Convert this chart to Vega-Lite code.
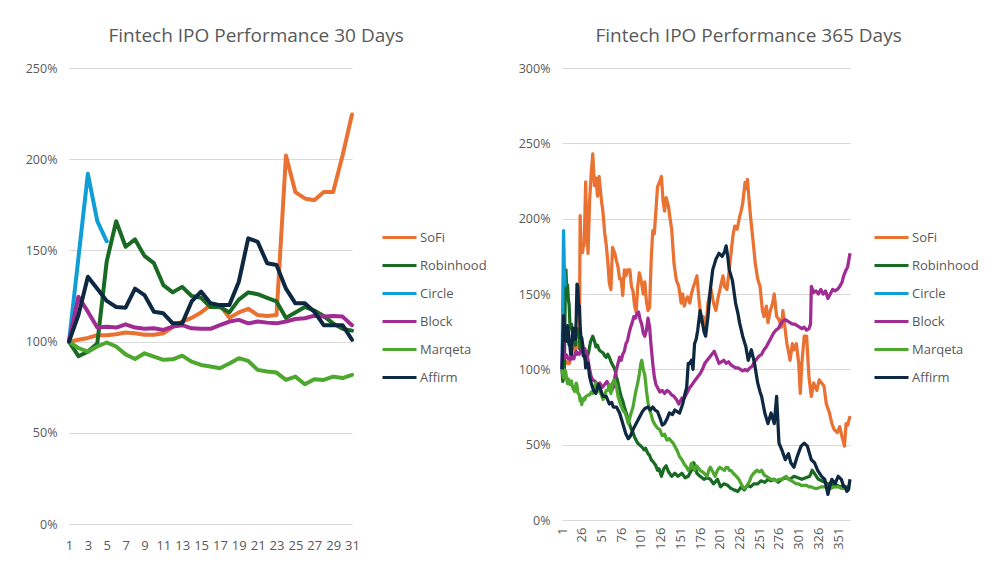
{
  "$schema": "https://vega.github.io/schema/vega-lite/v6.json",
  "background": "white",
  "padding": {"left": 25, "top": 27, "right": 5, "bottom": 5},
  "spacing": 31,
  "datasets": {
    "ipo": [
      {"s":"SoFi","d":1,"v":100},{"s":"SoFi","d":2,"v":101},{"s":"SoFi","d":3,"v":102},{"s":"SoFi","d":4,"v":103.5},{"s":"SoFi","d":5,"v":103.5},
      {"s":"SoFi","d":6,"v":104},{"s":"SoFi","d":7,"v":105},{"s":"SoFi","d":8,"v":104.6},{"s":"SoFi","d":9,"v":103.8},{"s":"SoFi","d":10,"v":103.8},
      {"s":"SoFi","d":11,"v":104.6},{"s":"SoFi","d":12,"v":108},{"s":"SoFi","d":13,"v":111},{"s":"SoFi","d":14,"v":113},{"s":"SoFi","d":15,"v":116},
      {"s":"SoFi","d":16,"v":120},{"s":"SoFi","d":17,"v":120},{"s":"SoFi","d":18,"v":113},{"s":"SoFi","d":19,"v":116},{"s":"SoFi","d":20,"v":118},
      {"s":"SoFi","d":21,"v":114.6},{"s":"SoFi","d":22,"v":114},{"s":"SoFi","d":23,"v":114.6},{"s":"SoFi","d":24,"v":202},{"s":"SoFi","d":25,"v":182},
      {"s":"SoFi","d":26,"v":178.5},{"s":"SoFi","d":27,"v":177.5},{"s":"SoFi","d":28,"v":182},{"s":"SoFi","d":29,"v":182},{"s":"SoFi","d":30,"v":202},
      {"s":"SoFi","d":31,"v":224.5},
      {"s":"SoFi","d":32,"v":200},{"s":"SoFi","d":34,"v":177},{"s":"SoFi","d":36,"v":212},{"s":"SoFi","d":38,"v":230},{"s":"SoFi","d":40,"v":243},
      {"s":"SoFi","d":42,"v":222},{"s":"SoFi","d":44,"v":227},{"s":"SoFi","d":46,"v":215},{"s":"SoFi","d":48,"v":228},{"s":"SoFi","d":51,"v":212},
      {"s":"SoFi","d":53,"v":204},{"s":"SoFi","d":55,"v":191},{"s":"SoFi","d":57,"v":183},{"s":"SoFi","d":59,"v":172},{"s":"SoFi","d":61,"v":157},
      {"s":"SoFi","d":63,"v":153},{"s":"SoFi","d":65,"v":181},{"s":"SoFi","d":68,"v":177},{"s":"SoFi","d":70,"v":172},{"s":"SoFi","d":72,"v":168},
      {"s":"SoFi","d":74,"v":160},{"s":"SoFi","d":76,"v":160},{"s":"SoFi","d":78,"v":149},{"s":"SoFi","d":80,"v":166},{"s":"SoFi","d":82,"v":162},
      {"s":"SoFi","d":84,"v":166},{"s":"SoFi","d":87,"v":166},{"s":"SoFi","d":89,"v":155},{"s":"SoFi","d":91,"v":152},{"s":"SoFi","d":93,"v":142},
      {"s":"SoFi","d":95,"v":138},{"s":"SoFi","d":97,"v":155},{"s":"SoFi","d":99,"v":164},{"s":"SoFi","d":101,"v":160},{"s":"SoFi","d":104,"v":150},
      {"s":"SoFi","d":106,"v":158},{"s":"SoFi","d":108,"v":145},{"s":"SoFi","d":110,"v":139},{"s":"SoFi","d":112,"v":141},{"s":"SoFi","d":114,"v":172},
      {"s":"SoFi","d":116,"v":192},{"s":"SoFi","d":118,"v":190},{"s":"SoFi","d":120,"v":205},{"s":"SoFi","d":122,"v":221},{"s":"SoFi","d":125,"v":225},
      {"s":"SoFi","d":127,"v":228},{"s":"SoFi","d":129,"v":212},{"s":"SoFi","d":131,"v":205},{"s":"SoFi","d":133,"v":214},{"s":"SoFi","d":136,"v":208},
      {"s":"SoFi","d":138,"v":200},{"s":"SoFi","d":140,"v":193},{"s":"SoFi","d":143,"v":170},{"s":"SoFi","d":146,"v":159},{"s":"SoFi","d":149,"v":155},
      {"s":"SoFi","d":152,"v":144},{"s":"SoFi","d":154,"v":150},{"s":"SoFi","d":156,"v":142},{"s":"SoFi","d":158,"v":146},{"s":"SoFi","d":160,"v":148},
      {"s":"SoFi","d":163,"v":144},{"s":"SoFi","d":165,"v":150},{"s":"SoFi","d":167,"v":154},{"s":"SoFi","d":169,"v":157},{"s":"SoFi","d":172,"v":162},
      {"s":"SoFi","d":175,"v":144},{"s":"SoFi","d":178,"v":131},{"s":"SoFi","d":180,"v":135},{"s":"SoFi","d":183,"v":126},{"s":"SoFi","d":186,"v":144},
      {"s":"SoFi","d":188,"v":150},{"s":"SoFi","d":190,"v":153},{"s":"SoFi","d":193,"v":144},{"s":"SoFi","d":196,"v":139},{"s":"SoFi","d":199,"v":148},
      {"s":"SoFi","d":202,"v":155},{"s":"SoFi","d":205,"v":162},{"s":"SoFi","d":207,"v":155},{"s":"SoFi","d":210,"v":153},{"s":"SoFi","d":213,"v":166},
      {"s":"SoFi","d":216,"v":181},{"s":"SoFi","d":218,"v":190},{"s":"SoFi","d":220,"v":195},{"s":"SoFi","d":223,"v":193},{"s":"SoFi","d":226,"v":201},
      {"s":"SoFi","d":228,"v":205},{"s":"SoFi","d":230,"v":210},{"s":"SoFi","d":233,"v":224},{"s":"SoFi","d":235,"v":220},{"s":"SoFi","d":236,"v":226},
      {"s":"SoFi","d":238,"v":213},{"s":"SoFi","d":240,"v":201},{"s":"SoFi","d":243,"v":186},{"s":"SoFi","d":246,"v":170},{"s":"SoFi","d":249,"v":160},
      {"s":"SoFi","d":252,"v":155},{"s":"SoFi","d":255,"v":139},{"s":"SoFi","d":257,"v":135},{"s":"SoFi","d":260,"v":142},{"s":"SoFi","d":262,"v":131},
      {"s":"SoFi","d":265,"v":139},{"s":"SoFi","d":268,"v":144},{"s":"SoFi","d":270,"v":150},{"s":"SoFi","d":273,"v":135},{"s":"SoFi","d":276,"v":133},
      {"s":"SoFi","d":279,"v":128},{"s":"SoFi","d":281,"v":139},{"s":"SoFi","d":284,"v":126},{"s":"SoFi","d":286,"v":117},{"s":"SoFi","d":288,"v":112},
      {"s":"SoFi","d":290,"v":106},{"s":"SoFi","d":293,"v":117},{"s":"SoFi","d":295,"v":113},{"s":"SoFi","d":298,"v":117},{"s":"SoFi","d":301,"v":104},
      {"s":"SoFi","d":303,"v":84},{"s":"SoFi","d":305,"v":104},{"s":"SoFi","d":308,"v":122},{"s":"SoFi","d":311,"v":122},{"s":"SoFi","d":314,"v":95},
      {"s":"SoFi","d":317,"v":82},{"s":"SoFi","d":320,"v":91},{"s":"SoFi","d":324,"v":86},{"s":"SoFi","d":327,"v":93},{"s":"SoFi","d":330,"v":91},
      {"s":"SoFi","d":333,"v":89},{"s":"SoFi","d":336,"v":77},{"s":"SoFi","d":340,"v":71},{"s":"SoFi","d":343,"v":64},{"s":"SoFi","d":346,"v":60},
      {"s":"SoFi","d":350,"v":58},{"s":"SoFi","d":353,"v":62},{"s":"SoFi","d":356,"v":55},{"s":"SoFi","d":359,"v":49},{"s":"SoFi","d":361,"v":64},
      {"s":"SoFi","d":363,"v":63},{"s":"SoFi","d":366,"v":69},

      {"s":"Robinhood","d":1,"v":100},{"s":"Robinhood","d":2,"v":92},{"s":"Robinhood","d":3,"v":94.5},{"s":"Robinhood","d":4,"v":99},{"s":"Robinhood","d":5,"v":144},
      {"s":"Robinhood","d":6,"v":166},{"s":"Robinhood","d":7,"v":152},{"s":"Robinhood","d":8,"v":156},{"s":"Robinhood","d":9,"v":147},{"s":"Robinhood","d":10,"v":143},
      {"s":"Robinhood","d":11,"v":131},{"s":"Robinhood","d":12,"v":127},{"s":"Robinhood","d":13,"v":130},{"s":"Robinhood","d":14,"v":125},{"s":"Robinhood","d":15,"v":124},
      {"s":"Robinhood","d":16,"v":119},{"s":"Robinhood","d":17,"v":119},{"s":"Robinhood","d":18,"v":116},{"s":"Robinhood","d":19,"v":123},{"s":"Robinhood","d":20,"v":127},
      {"s":"Robinhood","d":21,"v":126},{"s":"Robinhood","d":22,"v":124},{"s":"Robinhood","d":23,"v":122},{"s":"Robinhood","d":24,"v":113},{"s":"Robinhood","d":25,"v":116},
      {"s":"Robinhood","d":26,"v":119},{"s":"Robinhood","d":27,"v":117},{"s":"Robinhood","d":28,"v":114},{"s":"Robinhood","d":29,"v":110},{"s":"Robinhood","d":30,"v":107},
      {"s":"Robinhood","d":31,"v":106},
      {"s":"Robinhood","d":33,"v":108},{"s":"Robinhood","d":35,"v":112},{"s":"Robinhood","d":37,"v":118},{"s":"Robinhood","d":40,"v":122},{"s":"Robinhood","d":42,"v":119},
      {"s":"Robinhood","d":44,"v":115},{"s":"Robinhood","d":46,"v":116},{"s":"Robinhood","d":48,"v":113},{"s":"Robinhood","d":50,"v":112},{"s":"Robinhood","d":53,"v":111},
      {"s":"Robinhood","d":55,"v":109},{"s":"Robinhood","d":57,"v":108},{"s":"Robinhood","d":59,"v":110},{"s":"Robinhood","d":61,"v":108},{"s":"Robinhood","d":64,"v":104},
      {"s":"Robinhood","d":66,"v":102},{"s":"Robinhood","d":68,"v":100},{"s":"Robinhood","d":70,"v":95},{"s":"Robinhood","d":72,"v":91},{"s":"Robinhood","d":74,"v":86},
      {"s":"Robinhood","d":76,"v":82},{"s":"Robinhood","d":78,"v":79},{"s":"Robinhood","d":80,"v":75},{"s":"Robinhood","d":83,"v":70},{"s":"Robinhood","d":85,"v":66},
      {"s":"Robinhood","d":87,"v":63},{"s":"Robinhood","d":89,"v":60},{"s":"Robinhood","d":91,"v":58},{"s":"Robinhood","d":93,"v":55},{"s":"Robinhood","d":95,"v":53},
      {"s":"Robinhood","d":97,"v":51},{"s":"Robinhood","d":99,"v":50},{"s":"Robinhood","d":101,"v":49},{"s":"Robinhood","d":103,"v":48},{"s":"Robinhood","d":105,"v":46.5},
      {"s":"Robinhood","d":107,"v":47.6},{"s":"Robinhood","d":110,"v":44},{"s":"Robinhood","d":112,"v":43},{"s":"Robinhood","d":114,"v":40},{"s":"Robinhood","d":116,"v":39},
      {"s":"Robinhood","d":118,"v":37.6},{"s":"Robinhood","d":120,"v":36},{"s":"Robinhood","d":122,"v":33},{"s":"Robinhood","d":124,"v":34},{"s":"Robinhood","d":127,"v":29},
      {"s":"Robinhood","d":130,"v":34},{"s":"Robinhood","d":133,"v":36},{"s":"Robinhood","d":136,"v":32},{"s":"Robinhood","d":140,"v":29},{"s":"Robinhood","d":144,"v":31},
      {"s":"Robinhood","d":148,"v":29},{"s":"Robinhood","d":153,"v":31},{"s":"Robinhood","d":157,"v":28},{"s":"Robinhood","d":161,"v":29},{"s":"Robinhood","d":165,"v":33},
      {"s":"Robinhood","d":168,"v":38},{"s":"Robinhood","d":170,"v":35},{"s":"Robinhood","d":172,"v":31},{"s":"Robinhood","d":176,"v":29},{"s":"Robinhood","d":181,"v":27},
      {"s":"Robinhood","d":185,"v":28},{"s":"Robinhood","d":189,"v":27},{"s":"Robinhood","d":193,"v":24},{"s":"Robinhood","d":198,"v":27},{"s":"Robinhood","d":202,"v":22},
      {"s":"Robinhood","d":206,"v":24},{"s":"Robinhood","d":211,"v":23},{"s":"Robinhood","d":215,"v":21},{"s":"Robinhood","d":219,"v":20},{"s":"Robinhood","d":224,"v":19},
      {"s":"Robinhood","d":228,"v":22},{"s":"Robinhood","d":232,"v":20},{"s":"Robinhood","d":236,"v":23},{"s":"Robinhood","d":240,"v":22},{"s":"Robinhood","d":244,"v":24},
      {"s":"Robinhood","d":249,"v":24},{"s":"Robinhood","d":253,"v":26},{"s":"Robinhood","d":258,"v":25},{"s":"Robinhood","d":262,"v":27},{"s":"Robinhood","d":266,"v":26},
      {"s":"Robinhood","d":270,"v":27},{"s":"Robinhood","d":275,"v":25},{"s":"Robinhood","d":280,"v":27},{"s":"Robinhood","d":285,"v":28},{"s":"Robinhood","d":290,"v":27},
      {"s":"Robinhood","d":295,"v":29},{"s":"Robinhood","d":300,"v":28},{"s":"Robinhood","d":305,"v":27},{"s":"Robinhood","d":310,"v":28},{"s":"Robinhood","d":315,"v":29},
      {"s":"Robinhood","d":318,"v":33},{"s":"Robinhood","d":322,"v":30},{"s":"Robinhood","d":326,"v":27},{"s":"Robinhood","d":330,"v":26},{"s":"Robinhood","d":334,"v":25},
      {"s":"Robinhood","d":338,"v":24},{"s":"Robinhood","d":342,"v":23},{"s":"Robinhood","d":346,"v":24},{"s":"Robinhood","d":350,"v":23},{"s":"Robinhood","d":354,"v":22},
      {"s":"Robinhood","d":358,"v":23},{"s":"Robinhood","d":362,"v":21},{"s":"Robinhood","d":366,"v":22},

      {"s":"Circle","d":1,"v":100},{"s":"Circle","d":2,"v":146},{"s":"Circle","d":3,"v":192},{"s":"Circle","d":4,"v":166},{"s":"Circle","d":5,"v":155},

      {"s":"Block","d":1,"v":100},{"s":"Block","d":2,"v":124.6},{"s":"Block","d":3,"v":116.4},{"s":"Block","d":4,"v":107.7},{"s":"Block","d":5,"v":108.2},
      {"s":"Block","d":6,"v":107.7},{"s":"Block","d":7,"v":109.5},{"s":"Block","d":8,"v":107.7},{"s":"Block","d":9,"v":107},{"s":"Block","d":10,"v":107.3},
      {"s":"Block","d":11,"v":106.4},{"s":"Block","d":12,"v":108.2},{"s":"Block","d":13,"v":109},{"s":"Block","d":14,"v":107.3},{"s":"Block","d":15,"v":107},
      {"s":"Block","d":16,"v":107},{"s":"Block","d":17,"v":109},{"s":"Block","d":18,"v":111},{"s":"Block","d":19,"v":111.9},{"s":"Block","d":20,"v":110},
      {"s":"Block","d":21,"v":111},{"s":"Block","d":22,"v":110.4},{"s":"Block","d":23,"v":110},{"s":"Block","d":24,"v":111},{"s":"Block","d":25,"v":112.4},
      {"s":"Block","d":26,"v":112.8},{"s":"Block","d":27,"v":114.2},{"s":"Block","d":28,"v":113.7},{"s":"Block","d":29,"v":114},{"s":"Block","d":30,"v":113.7},
      {"s":"Block","d":31,"v":109},
      {"s":"Block","d":32,"v":112},{"s":"Block","d":34,"v":106},{"s":"Block","d":36,"v":100},{"s":"Block","d":38,"v":95},{"s":"Block","d":40,"v":93},
      {"s":"Block","d":43,"v":92},{"s":"Block","d":46,"v":90},{"s":"Block","d":49,"v":91},{"s":"Block","d":52,"v":88},{"s":"Block","d":55,"v":90},
      {"s":"Block","d":58,"v":92},{"s":"Block","d":61,"v":88},{"s":"Block","d":64,"v":86},{"s":"Block","d":66,"v":88},{"s":"Block","d":68,"v":95},
      {"s":"Block","d":70,"v":100},{"s":"Block","d":72,"v":104},{"s":"Block","d":74,"v":108},{"s":"Block","d":76,"v":106},{"s":"Block","d":78,"v":110},
      {"s":"Block","d":80,"v":112},{"s":"Block","d":82,"v":117},{"s":"Block","d":84,"v":119},{"s":"Block","d":86,"v":124},{"s":"Block","d":88,"v":128},
      {"s":"Block","d":90,"v":131},{"s":"Block","d":92,"v":135},{"s":"Block","d":94,"v":134},{"s":"Block","d":96,"v":137},{"s":"Block","d":98,"v":138},
      {"s":"Block","d":100,"v":133},{"s":"Block","d":102,"v":130},{"s":"Block","d":104,"v":124},{"s":"Block","d":106,"v":122},{"s":"Block","d":108,"v":126},
      {"s":"Block","d":110,"v":134},{"s":"Block","d":112,"v":128},{"s":"Block","d":114,"v":115},{"s":"Block","d":116,"v":104},{"s":"Block","d":118,"v":95},
      {"s":"Block","d":120,"v":90},{"s":"Block","d":122,"v":88},{"s":"Block","d":125,"v":85},{"s":"Block","d":128,"v":86},{"s":"Block","d":131,"v":84},
      {"s":"Block","d":134,"v":86},{"s":"Block","d":137,"v":85},{"s":"Block","d":140,"v":83},{"s":"Block","d":143,"v":82},{"s":"Block","d":146,"v":80},
      {"s":"Block","d":149,"v":77},{"s":"Block","d":151,"v":79},{"s":"Block","d":153,"v":81},{"s":"Block","d":155,"v":80},{"s":"Block","d":157,"v":82},
      {"s":"Block","d":160,"v":85},{"s":"Block","d":163,"v":88},{"s":"Block","d":166,"v":90},{"s":"Block","d":170,"v":93},{"s":"Block","d":173,"v":95},
      {"s":"Block","d":176,"v":97},{"s":"Block","d":179,"v":100},{"s":"Block","d":182,"v":104},{"s":"Block","d":185,"v":106},{"s":"Block","d":188,"v":108},
      {"s":"Block","d":191,"v":110},{"s":"Block","d":194,"v":112},{"s":"Block","d":197,"v":108},{"s":"Block","d":200,"v":104},{"s":"Block","d":203,"v":105},
      {"s":"Block","d":206,"v":106},{"s":"Block","d":209,"v":104},{"s":"Block","d":212,"v":105},{"s":"Block","d":215,"v":103},{"s":"Block","d":218,"v":102},
      {"s":"Block","d":221,"v":101},{"s":"Block","d":224,"v":101},{"s":"Block","d":227,"v":100},{"s":"Block","d":230,"v":99},{"s":"Block","d":233,"v":100},
      {"s":"Block","d":236,"v":99},{"s":"Block","d":239,"v":101},{"s":"Block","d":242,"v":102},{"s":"Block","d":245,"v":105},{"s":"Block","d":248,"v":107},
      {"s":"Block","d":251,"v":109},{"s":"Block","d":254,"v":110},{"s":"Block","d":257,"v":113},{"s":"Block","d":260,"v":115},{"s":"Block","d":263,"v":118},
      {"s":"Block","d":266,"v":121},{"s":"Block","d":269,"v":124},{"s":"Block","d":272,"v":126},{"s":"Block","d":275,"v":127},{"s":"Block","d":278,"v":130},
      {"s":"Block","d":281,"v":132},{"s":"Block","d":284,"v":133},{"s":"Block","d":287,"v":132},{"s":"Block","d":290,"v":131},{"s":"Block","d":293,"v":130},
      {"s":"Block","d":296,"v":130},{"s":"Block","d":299,"v":129},{"s":"Block","d":302,"v":128},{"s":"Block","d":305,"v":127},{"s":"Block","d":308,"v":128},
      {"s":"Block","d":311,"v":126},{"s":"Block","d":314,"v":127},{"s":"Block","d":316,"v":130},{"s":"Block","d":317,"v":155},{"s":"Block","d":320,"v":151},
      {"s":"Block","d":323,"v":152},{"s":"Block","d":326,"v":150},{"s":"Block","d":329,"v":153},{"s":"Block","d":332,"v":150},{"s":"Block","d":335,"v":152},
      {"s":"Block","d":338,"v":147},{"s":"Block","d":341,"v":150},{"s":"Block","d":344,"v":153},{"s":"Block","d":347,"v":152},{"s":"Block","d":350,"v":153},
      {"s":"Block","d":353,"v":155},{"s":"Block","d":356,"v":158},{"s":"Block","d":358,"v":162},{"s":"Block","d":361,"v":166},{"s":"Block","d":363,"v":168},
      {"s":"Block","d":366,"v":177},

      {"s":"Marqeta","d":1,"v":100},{"s":"Marqeta","d":2,"v":96.4},{"s":"Marqeta","d":3,"v":94.5},{"s":"Marqeta","d":4,"v":97.3},{"s":"Marqeta","d":5,"v":99.5},
      {"s":"Marqeta","d":6,"v":97.3},{"s":"Marqeta","d":7,"v":93},{"s":"Marqeta","d":8,"v":90.5},{"s":"Marqeta","d":9,"v":93.6},{"s":"Marqeta","d":10,"v":91.8},
      {"s":"Marqeta","d":11,"v":90},{"s":"Marqeta","d":12,"v":90.3},{"s":"Marqeta","d":13,"v":92.3},{"s":"Marqeta","d":14,"v":89},{"s":"Marqeta","d":15,"v":87.2},
      {"s":"Marqeta","d":16,"v":86.3},{"s":"Marqeta","d":17,"v":85.4},{"s":"Marqeta","d":18,"v":88},{"s":"Marqeta","d":19,"v":90.9},{"s":"Marqeta","d":20,"v":89.4},
      {"s":"Marqeta","d":21,"v":84.5},{"s":"Marqeta","d":22,"v":83.6},{"s":"Marqeta","d":23,"v":83},{"s":"Marqeta","d":24,"v":79},{"s":"Marqeta","d":25,"v":80.8},
      {"s":"Marqeta","d":26,"v":76.6},{"s":"Marqeta","d":27,"v":79.4},{"s":"Marqeta","d":28,"v":79},{"s":"Marqeta","d":29,"v":80.8},{"s":"Marqeta","d":30,"v":80},
      {"s":"Marqeta","d":31,"v":81.8},
      {"s":"Marqeta","d":34,"v":83},{"s":"Marqeta","d":36,"v":83},{"s":"Marqeta","d":38,"v":85},{"s":"Marqeta","d":40,"v":84},{"s":"Marqeta","d":42,"v":88},
      {"s":"Marqeta","d":44,"v":91},{"s":"Marqeta","d":46,"v":87},{"s":"Marqeta","d":49,"v":85},{"s":"Marqeta","d":51,"v":83},{"s":"Marqeta","d":53,"v":80},
      {"s":"Marqeta","d":55,"v":82},{"s":"Marqeta","d":57,"v":86},{"s":"Marqeta","d":59,"v":86},{"s":"Marqeta","d":61,"v":90},{"s":"Marqeta","d":63,"v":84},
      {"s":"Marqeta","d":65,"v":91},{"s":"Marqeta","d":67,"v":93},{"s":"Marqeta","d":70,"v":89},{"s":"Marqeta","d":72,"v":82},{"s":"Marqeta","d":75,"v":77},
      {"s":"Marqeta","d":78,"v":73},{"s":"Marqeta","d":81,"v":71},{"s":"Marqeta","d":83,"v":68},{"s":"Marqeta","d":85,"v":64},{"s":"Marqeta","d":88,"v":70},
      {"s":"Marqeta","d":91,"v":75},{"s":"Marqeta","d":94,"v":84},{"s":"Marqeta","d":97,"v":91},{"s":"Marqeta","d":99,"v":97},{"s":"Marqeta","d":101,"v":104},
      {"s":"Marqeta","d":102,"v":106},{"s":"Marqeta","d":104,"v":100},{"s":"Marqeta","d":106,"v":96},{"s":"Marqeta","d":108,"v":86},{"s":"Marqeta","d":110,"v":78},
      {"s":"Marqeta","d":112,"v":73},{"s":"Marqeta","d":114,"v":70},{"s":"Marqeta","d":116,"v":66},{"s":"Marqeta","d":119,"v":63},{"s":"Marqeta","d":122,"v":61},
      {"s":"Marqeta","d":125,"v":60},{"s":"Marqeta","d":128,"v":56},{"s":"Marqeta","d":131,"v":57},{"s":"Marqeta","d":134,"v":53},{"s":"Marqeta","d":137,"v":54},
      {"s":"Marqeta","d":140,"v":52},{"s":"Marqeta","d":142,"v":51},{"s":"Marqeta","d":145,"v":48},{"s":"Marqeta","d":147,"v":46},{"s":"Marqeta","d":150,"v":42},
      {"s":"Marqeta","d":153,"v":40},{"s":"Marqeta","d":156,"v":37},{"s":"Marqeta","d":159,"v":35},{"s":"Marqeta","d":161,"v":33},{"s":"Marqeta","d":163,"v":34},
      {"s":"Marqeta","d":165,"v":37.6},{"s":"Marqeta","d":167,"v":35},{"s":"Marqeta","d":169,"v":33},{"s":"Marqeta","d":171,"v":36},{"s":"Marqeta","d":173,"v":35},
      {"s":"Marqeta","d":176,"v":33},{"s":"Marqeta","d":179,"v":32},{"s":"Marqeta","d":181,"v":31},{"s":"Marqeta","d":183,"v":30},{"s":"Marqeta","d":185,"v":29},
      {"s":"Marqeta","d":187,"v":33},{"s":"Marqeta","d":189,"v":35},{"s":"Marqeta","d":192,"v":32},{"s":"Marqeta","d":195,"v":29},{"s":"Marqeta","d":198,"v":33},
      {"s":"Marqeta","d":201,"v":35},{"s":"Marqeta","d":204,"v":34},{"s":"Marqeta","d":207,"v":33},{"s":"Marqeta","d":209,"v":35},{"s":"Marqeta","d":211,"v":35},
      {"s":"Marqeta","d":213,"v":33},{"s":"Marqeta","d":215,"v":33},{"s":"Marqeta","d":218,"v":31},{"s":"Marqeta","d":222,"v":29},{"s":"Marqeta","d":225,"v":27},
      {"s":"Marqeta","d":228,"v":24},{"s":"Marqeta","d":230,"v":22},{"s":"Marqeta","d":232,"v":21},{"s":"Marqeta","d":234,"v":22},{"s":"Marqeta","d":237,"v":24},
      {"s":"Marqeta","d":239,"v":26},{"s":"Marqeta","d":241,"v":29},{"s":"Marqeta","d":244,"v":31},{"s":"Marqeta","d":248,"v":33},{"s":"Marqeta","d":251,"v":32},
      {"s":"Marqeta","d":254,"v":33},{"s":"Marqeta","d":257,"v":30},{"s":"Marqeta","d":260,"v":29},{"s":"Marqeta","d":263,"v":28},{"s":"Marqeta","d":266,"v":27},
      {"s":"Marqeta","d":270,"v":27},{"s":"Marqeta","d":273,"v":26},{"s":"Marqeta","d":276,"v":27},{"s":"Marqeta","d":279,"v":27},{"s":"Marqeta","d":282,"v":28},
      {"s":"Marqeta","d":285,"v":29},{"s":"Marqeta","d":288,"v":27},{"s":"Marqeta","d":292,"v":26},{"s":"Marqeta","d":295,"v":25},{"s":"Marqeta","d":298,"v":24},
      {"s":"Marqeta","d":301,"v":24},{"s":"Marqeta","d":304,"v":23},{"s":"Marqeta","d":308,"v":23},{"s":"Marqeta","d":311,"v":23},{"s":"Marqeta","d":314,"v":22},
      {"s":"Marqeta","d":317,"v":22},{"s":"Marqeta","d":321,"v":21},{"s":"Marqeta","d":325,"v":21},{"s":"Marqeta","d":329,"v":22},{"s":"Marqeta","d":334,"v":22},
      {"s":"Marqeta","d":338,"v":21},{"s":"Marqeta","d":342,"v":21},{"s":"Marqeta","d":346,"v":22},{"s":"Marqeta","d":351,"v":22},{"s":"Marqeta","d":355,"v":21},
      {"s":"Marqeta","d":359,"v":21},{"s":"Marqeta","d":362,"v":22},{"s":"Marqeta","d":366,"v":23},

      {"s":"Affirm","d":1,"v":100},{"s":"Affirm","d":2,"v":114.6},{"s":"Affirm","d":3,"v":135.6},{"s":"Affirm","d":4,"v":129},{"s":"Affirm","d":5,"v":122.3},
      {"s":"Affirm","d":6,"v":119},{"s":"Affirm","d":7,"v":118.6},{"s":"Affirm","d":8,"v":129},{"s":"Affirm","d":9,"v":125.5},{"s":"Affirm","d":10,"v":116.4},
      {"s":"Affirm","d":11,"v":115.5},{"s":"Affirm","d":12,"v":110},{"s":"Affirm","d":13,"v":110},{"s":"Affirm","d":14,"v":122},{"s":"Affirm","d":15,"v":127.4},
      {"s":"Affirm","d":16,"v":121},{"s":"Affirm","d":17,"v":120},{"s":"Affirm","d":18,"v":120},{"s":"Affirm","d":19,"v":132.8},{"s":"Affirm","d":20,"v":156.6},
      {"s":"Affirm","d":21,"v":154.7},{"s":"Affirm","d":22,"v":143},{"s":"Affirm","d":23,"v":142},{"s":"Affirm","d":24,"v":129},{"s":"Affirm","d":25,"v":121},
      {"s":"Affirm","d":26,"v":121},{"s":"Affirm","d":27,"v":116.4},{"s":"Affirm","d":28,"v":109},{"s":"Affirm","d":29,"v":109},{"s":"Affirm","d":30,"v":109},
      {"s":"Affirm","d":31,"v":101},
      {"s":"Affirm","d":34,"v":104},{"s":"Affirm","d":36,"v":95},{"s":"Affirm","d":38,"v":91},{"s":"Affirm","d":41,"v":86},{"s":"Affirm","d":44,"v":84},
      {"s":"Affirm","d":47,"v":90},{"s":"Affirm","d":49,"v":88},{"s":"Affirm","d":53,"v":82},{"s":"Affirm","d":57,"v":82},{"s":"Affirm","d":61,"v":77},
      {"s":"Affirm","d":64,"v":78},{"s":"Affirm","d":66,"v":75},{"s":"Affirm","d":70,"v":75},{"s":"Affirm","d":74,"v":71},{"s":"Affirm","d":78,"v":64},
      {"s":"Affirm","d":82,"v":57},{"s":"Affirm","d":85,"v":54},{"s":"Affirm","d":88,"v":56},{"s":"Affirm","d":91,"v":60},{"s":"Affirm","d":95,"v":64},
      {"s":"Affirm","d":99,"v":68},{"s":"Affirm","d":103,"v":72},{"s":"Affirm","d":106,"v":74},{"s":"Affirm","d":110,"v":75},{"s":"Affirm","d":113,"v":73},
      {"s":"Affirm","d":116,"v":75},{"s":"Affirm","d":119,"v":73},{"s":"Affirm","d":122,"v":72},{"s":"Affirm","d":125,"v":68},{"s":"Affirm","d":128,"v":63},
      {"s":"Affirm","d":131,"v":64},{"s":"Affirm","d":134,"v":67},{"s":"Affirm","d":137,"v":71},{"s":"Affirm","d":141,"v":70},{"s":"Affirm","d":144,"v":73},
      {"s":"Affirm","d":147,"v":72},{"s":"Affirm","d":150,"v":71},{"s":"Affirm","d":154,"v":77},{"s":"Affirm","d":157,"v":84},{"s":"Affirm","d":159,"v":88},
      {"s":"Affirm","d":161,"v":104},{"s":"Affirm","d":163,"v":104},{"s":"Affirm","d":165,"v":106},{"s":"Affirm","d":167,"v":100},{"s":"Affirm","d":169,"v":117},
      {"s":"Affirm","d":171,"v":120},{"s":"Affirm","d":173,"v":126},{"s":"Affirm","d":176,"v":139},{"s":"Affirm","d":179,"v":131},{"s":"Affirm","d":181,"v":125},
      {"s":"Affirm","d":183,"v":122},{"s":"Affirm","d":186,"v":135},{"s":"Affirm","d":189,"v":153},{"s":"Affirm","d":192,"v":166},{"s":"Affirm","d":196,"v":173},
      {"s":"Affirm","d":200,"v":177},{"s":"Affirm","d":204,"v":175},{"s":"Affirm","d":207,"v":178},{"s":"Affirm","d":209,"v":182},{"s":"Affirm","d":211,"v":175},
      {"s":"Affirm","d":213,"v":166},{"s":"Affirm","d":217,"v":159},{"s":"Affirm","d":221,"v":144},{"s":"Affirm","d":224,"v":137},{"s":"Affirm","d":226,"v":131},
      {"s":"Affirm","d":230,"v":122},{"s":"Affirm","d":234,"v":115},{"s":"Affirm","d":237,"v":106},{"s":"Affirm","d":241,"v":113},{"s":"Affirm","d":245,"v":104},
      {"s":"Affirm","d":249,"v":91},{"s":"Affirm","d":252,"v":85},{"s":"Affirm","d":254,"v":82},{"s":"Affirm","d":258,"v":71},{"s":"Affirm","d":262,"v":64},
      {"s":"Affirm","d":266,"v":71},{"s":"Affirm","d":270,"v":64},{"s":"Affirm","d":273,"v":82},{"s":"Affirm","d":276,"v":51},{"s":"Affirm","d":280,"v":46},
      {"s":"Affirm","d":284,"v":40},{"s":"Affirm","d":288,"v":44},{"s":"Affirm","d":291,"v":38},{"s":"Affirm","d":295,"v":35},{"s":"Affirm","d":299,"v":42},
      {"s":"Affirm","d":304,"v":49},{"s":"Affirm","d":308,"v":51},{"s":"Affirm","d":312,"v":49},{"s":"Affirm","d":317,"v":40},{"s":"Affirm","d":321,"v":38},
      {"s":"Affirm","d":325,"v":33},{"s":"Affirm","d":330,"v":29},{"s":"Affirm","d":334,"v":27},{"s":"Affirm","d":338,"v":17},{"s":"Affirm","d":341,"v":24},
      {"s":"Affirm","d":343,"v":27},{"s":"Affirm","d":347,"v":24},{"s":"Affirm","d":351,"v":29},{"s":"Affirm","d":355,"v":27},{"s":"Affirm","d":358,"v":22},
      {"s":"Affirm","d":360,"v":22},{"s":"Affirm","d":362,"v":19},{"s":"Affirm","d":364,"v":20},{"s":"Affirm","d":366,"v":27}
    ]
  },
  "hconcat": [
    {
      "title": "Fintech IPO Performance 30 Days",
      "width": 283,
      "height": 456,
      "data": {"name": "ipo"},
      "transform": [{"filter": "datum.d <= 31"}],
      "mark": {"type": "line", "strokeWidth": 4, "strokeJoin": "round", "strokeCap": "round"},
      "encoding": {
        "x": {
          "field": "d", "type": "quantitative",
          "scale": {"domain": [1, 31], "nice": false, "zero": false},
          "axis": {"values": [1,3,5,7,9,11,13,15,17,19,21,23,25,27,29,31], "labelPadding": 15, "labelFontSize": 13, "labelFlush": false, "labelOverlap": false}
        },
        "y": {
          "field": "v", "type": "quantitative",
          "scale": {"domain": [0, 250], "nice": false},
          "axis": {"values": [0,50,100,150,200,250], "labelExpr": "datum.value + '%'"}
        },
        "color": {
          "field": "s", "type": "nominal", "sort": null,
          "scale": {"domain": ["SoFi","Robinhood","Circle","Block","Marqeta","Affirm"], "range": ["#E97132","#196B24","#0F9ED5","#A02B93","#4EA72E","#0E2841"]},
          "legend": {"orient": "none", "legendX": 312, "legendY": 151}
        }
      }
    },
    {
      "title": "Fintech IPO Performance 365 Days",
      "width": 288,
      "height": 452,
      "data": {"name": "ipo"},
      "mark": {"type": "line", "strokeWidth": 3.25, "strokeJoin": "round"},
      "encoding": {
        "x": {
          "field": "d", "type": "quantitative",
          "scale": {"domain": [1, 366], "nice": false, "zero": false},
          "axis": {"values": [1,26,51,76,101,126,151,176,201,226,251,276,301,326,351], "labelAngle": 270, "labelAlign": "right", "labelBaseline": "middle", "labelPadding": 7, "labelFontSize": 13, "labelFlush": false, "labelOverlap": false}
        },
        "y": {
          "field": "v", "type": "quantitative",
          "scale": {"domain": [0, 300], "nice": false},
          "axis": {"values": [0,50,100,150,200,250,300], "labelExpr": "datum.value + '%'"}
        },
        "color": {
          "field": "s", "type": "nominal", "sort": null,
          "scale": {"domain": ["SoFi","Robinhood","Circle","Block","Marqeta","Affirm"], "range": ["#E97132","#196B24","#0F9ED5","#A02B93","#4EA72E","#0E2841"]},
          "legend": {"orient": "none", "legendX": 311, "legendY": 151}
        }
      }
    }
  ],
  "resolve": {"scale": {"color": "independent"}, "legend": {"color": "independent"}},
  "config": {
    "font": "Open Sans",
    "view": {"stroke": null},
    "title": {"font": "Open Sans", "fontSize": 19, "fontWeight": "normal", "color": "#595959", "anchor": "middle", "frame": "bounds", "offset": 16},
    "axis": {"title": null, "labelFont": "Open Sans", "labelColor": "#595959", "labelFontSize": 12.5, "ticks": false, "domain": false, "gridColor": "#D9D9D9", "gridWidth": 1},
    "axisY": {"labelPadding": 12},
    "axisX": {"grid": false, "domain": true, "domainColor": "#D9D9D9"},
    "legend": {"title": null, "symbolType": "stroke", "symbolSize": 1156, "symbolStrokeWidth": 3, "labelFont": "Open Sans", "labelFontSize": 13, "labelColor": "#595959", "labelOffset": 2, "rowPadding": 2}
  }
}
